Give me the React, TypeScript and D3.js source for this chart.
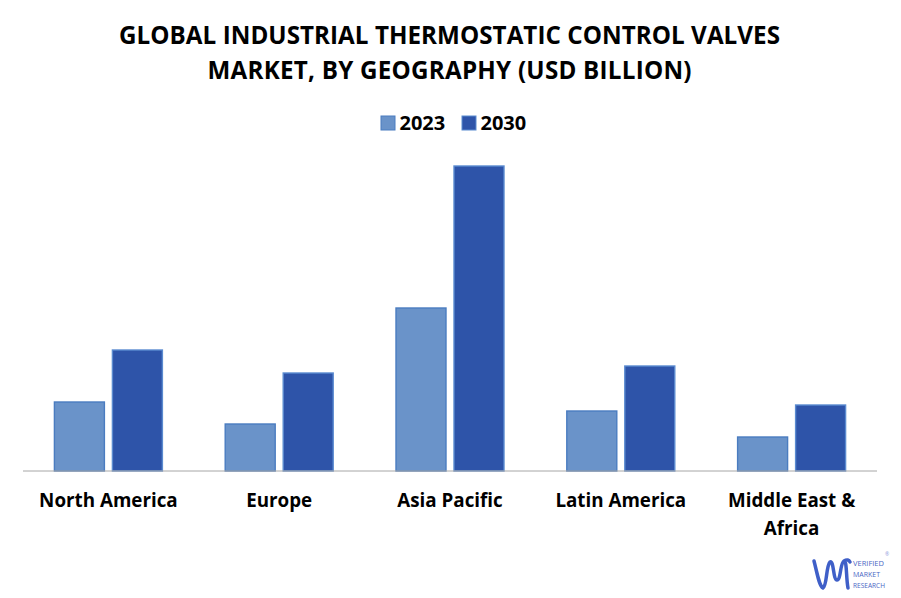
import React, { useEffect, useRef } from 'react';
import * as d3 from 'd3';

const categories = ['North America', 'Europe', 'Asia Pacific', 'Latin America', 'Middle East & Africa'];
const seriesNames = ['2023', '2030'];
const values2023 = [0.69, 0.47, 1.63, 0.6, 0.34];
const values2030 = [1.21, 0.98, 3.05, 1.05, 0.66];
const titleLines = ['GLOBAL INDUSTRIAL THERMOSTATIC CONTROL VALVES', 'MARKET, BY GEOGRAPHY (USD BILLION)'];
const fills = ['#6a93c9', '#2e54a9'];
const strokes = ['#4a7cc0', '#5b8bd0'];

const fontFamily = '"Open Sans", sans-serif';

const App: React.FC = () => {
  const svgRef = useRef<SVGSVGElement>(null);

  useEffect(() => {
    const svg = d3.select(svgRef.current);
    svg.selectAll('*').remove();

    const x = d3.scaleBand().domain(categories).range([23, 877]);
    const y = d3.scaleLinear().domain([0, 3.05]).range([471, 166]);
    const series = d3.scaleBand().domain(seriesNames).range([-54, 54]).paddingInner(0.138).paddingOuter(0);

    // Title
    svg.append('g')
      .selectAll('text')
      .data(titleLines)
      .join('text')
      .attr('x', 449.5)
      .attr('y', (_, i) => 44 + i * 35)
      .attr('text-anchor', 'middle')
      .attr('font-size', 24.2)
      .attr('font-weight', 700)
      .attr('fill', '#000')
      .attr('textLength', (_, i) => [661, 484][i])
      .text(d => d);

    // Legend
    const legendX = [381, 462];
    const legend = svg.append('g')
      .selectAll('g')
      .data(seriesNames)
      .join('g')
      .attr('transform', (_, i) => `translate(${legendX[i]},116)`);
    legend.append('rect')
      .attr('width', 14)
      .attr('height', 14)
      .attr('fill', (_, i) => fills[i])
      .attr('stroke', (_, i) => strokes[i])
      .attr('stroke-width', 1);
    legend.append('text')
      .attr('x', 18.5)
      .attr('y', 14)
      .attr('font-size', 20)
      .attr('font-weight', 700)
      .attr('fill', '#000')
      .text(d => d);

    // Bars
    const groups = svg.append('g')
      .selectAll('g')
      .data(categories)
      .join('g')
      .attr('transform', d => `translate(${(x(d) ?? 0) + x.bandwidth() / 2},0)`);

    [values2023, values2030].forEach((vals, s) => {
      groups.append('rect')
        .attr('x', () => series(seriesNames[s]) ?? 0)
        .attr('y', (_, i) => y(vals[i]))
        .attr('width', series.bandwidth())
        .attr('height', (_, i) => y(0) - y(vals[i]))
        .attr('fill', fills[s])
        .attr('stroke', strokes[s])
        .attr('stroke-width', 1.4);
    });

    // Axis line
    svg.append('line')
      .attr('x1', 23)
      .attr('x2', 877)
      .attr('y1', y(0))
      .attr('y2', y(0))
      .attr('stroke', '#a6a6a6')
      .attr('stroke-width', 1);

    // Category labels, Middle East wraps
    const wrapped = categories.map(c => (c.startsWith('Middle') ? ['Middle East &', 'Africa'] : [c]));
    groups.append('text')
      .attr('text-anchor', 'middle')
      .attr('font-size', 18.8)
      .attr('font-weight', 700)
      .attr('fill', '#000')
      .selectAll('tspan')
      .data((_, i) => wrapped[i])
      .join('tspan')
      .attr('x', 0)
      .attr('y', (_, i) => 507 + i * 28)
      .text(d => d);

    // Logo
    const logo = svg.append('g');
    logo.append('path')
      .attr('d', 'M814 561 C817 572 819 586 823 588 C827 586 826 566 830 562 C834 560 833 580 837 580 C841 580 840 563 844 561 C847 560 846 578 848 588 M844 561 C847 559 849 560 850 562')
      .attr('fill', 'none')
      .attr('stroke', '#3f5fc8')
      .attr('stroke-width', 3.5)
      .attr('stroke-linecap', 'round');
    logo.selectAll('text')
      .data(['VERIFIED', 'MARKET', 'RESEARCH'])
      .join('text')
      .attr('x', 853)
      .attr('y', (_, i) => 566 + i * 11)
      .attr('font-size', 7)
      .attr('textLength', (_, i) => [31, 27, 32][i])
      .attr('lengthAdjust', 'spacingAndGlyphs')
      .attr('fill', '#4a66c4')
      .text(d => d);
    logo.append('text')
      .attr('x', 885)
      .attr('y', 556)
      .attr('font-size', 5)
      .attr('fill', '#8fa0dc')
      .text('®');
  }, []);

  return (
    <svg
      ref={svgRef}
      width={901}
      height={598}
      style={{ position: 'absolute', left: 0, top: 0, fontFamily }}
    />
  );
};

export default App;
